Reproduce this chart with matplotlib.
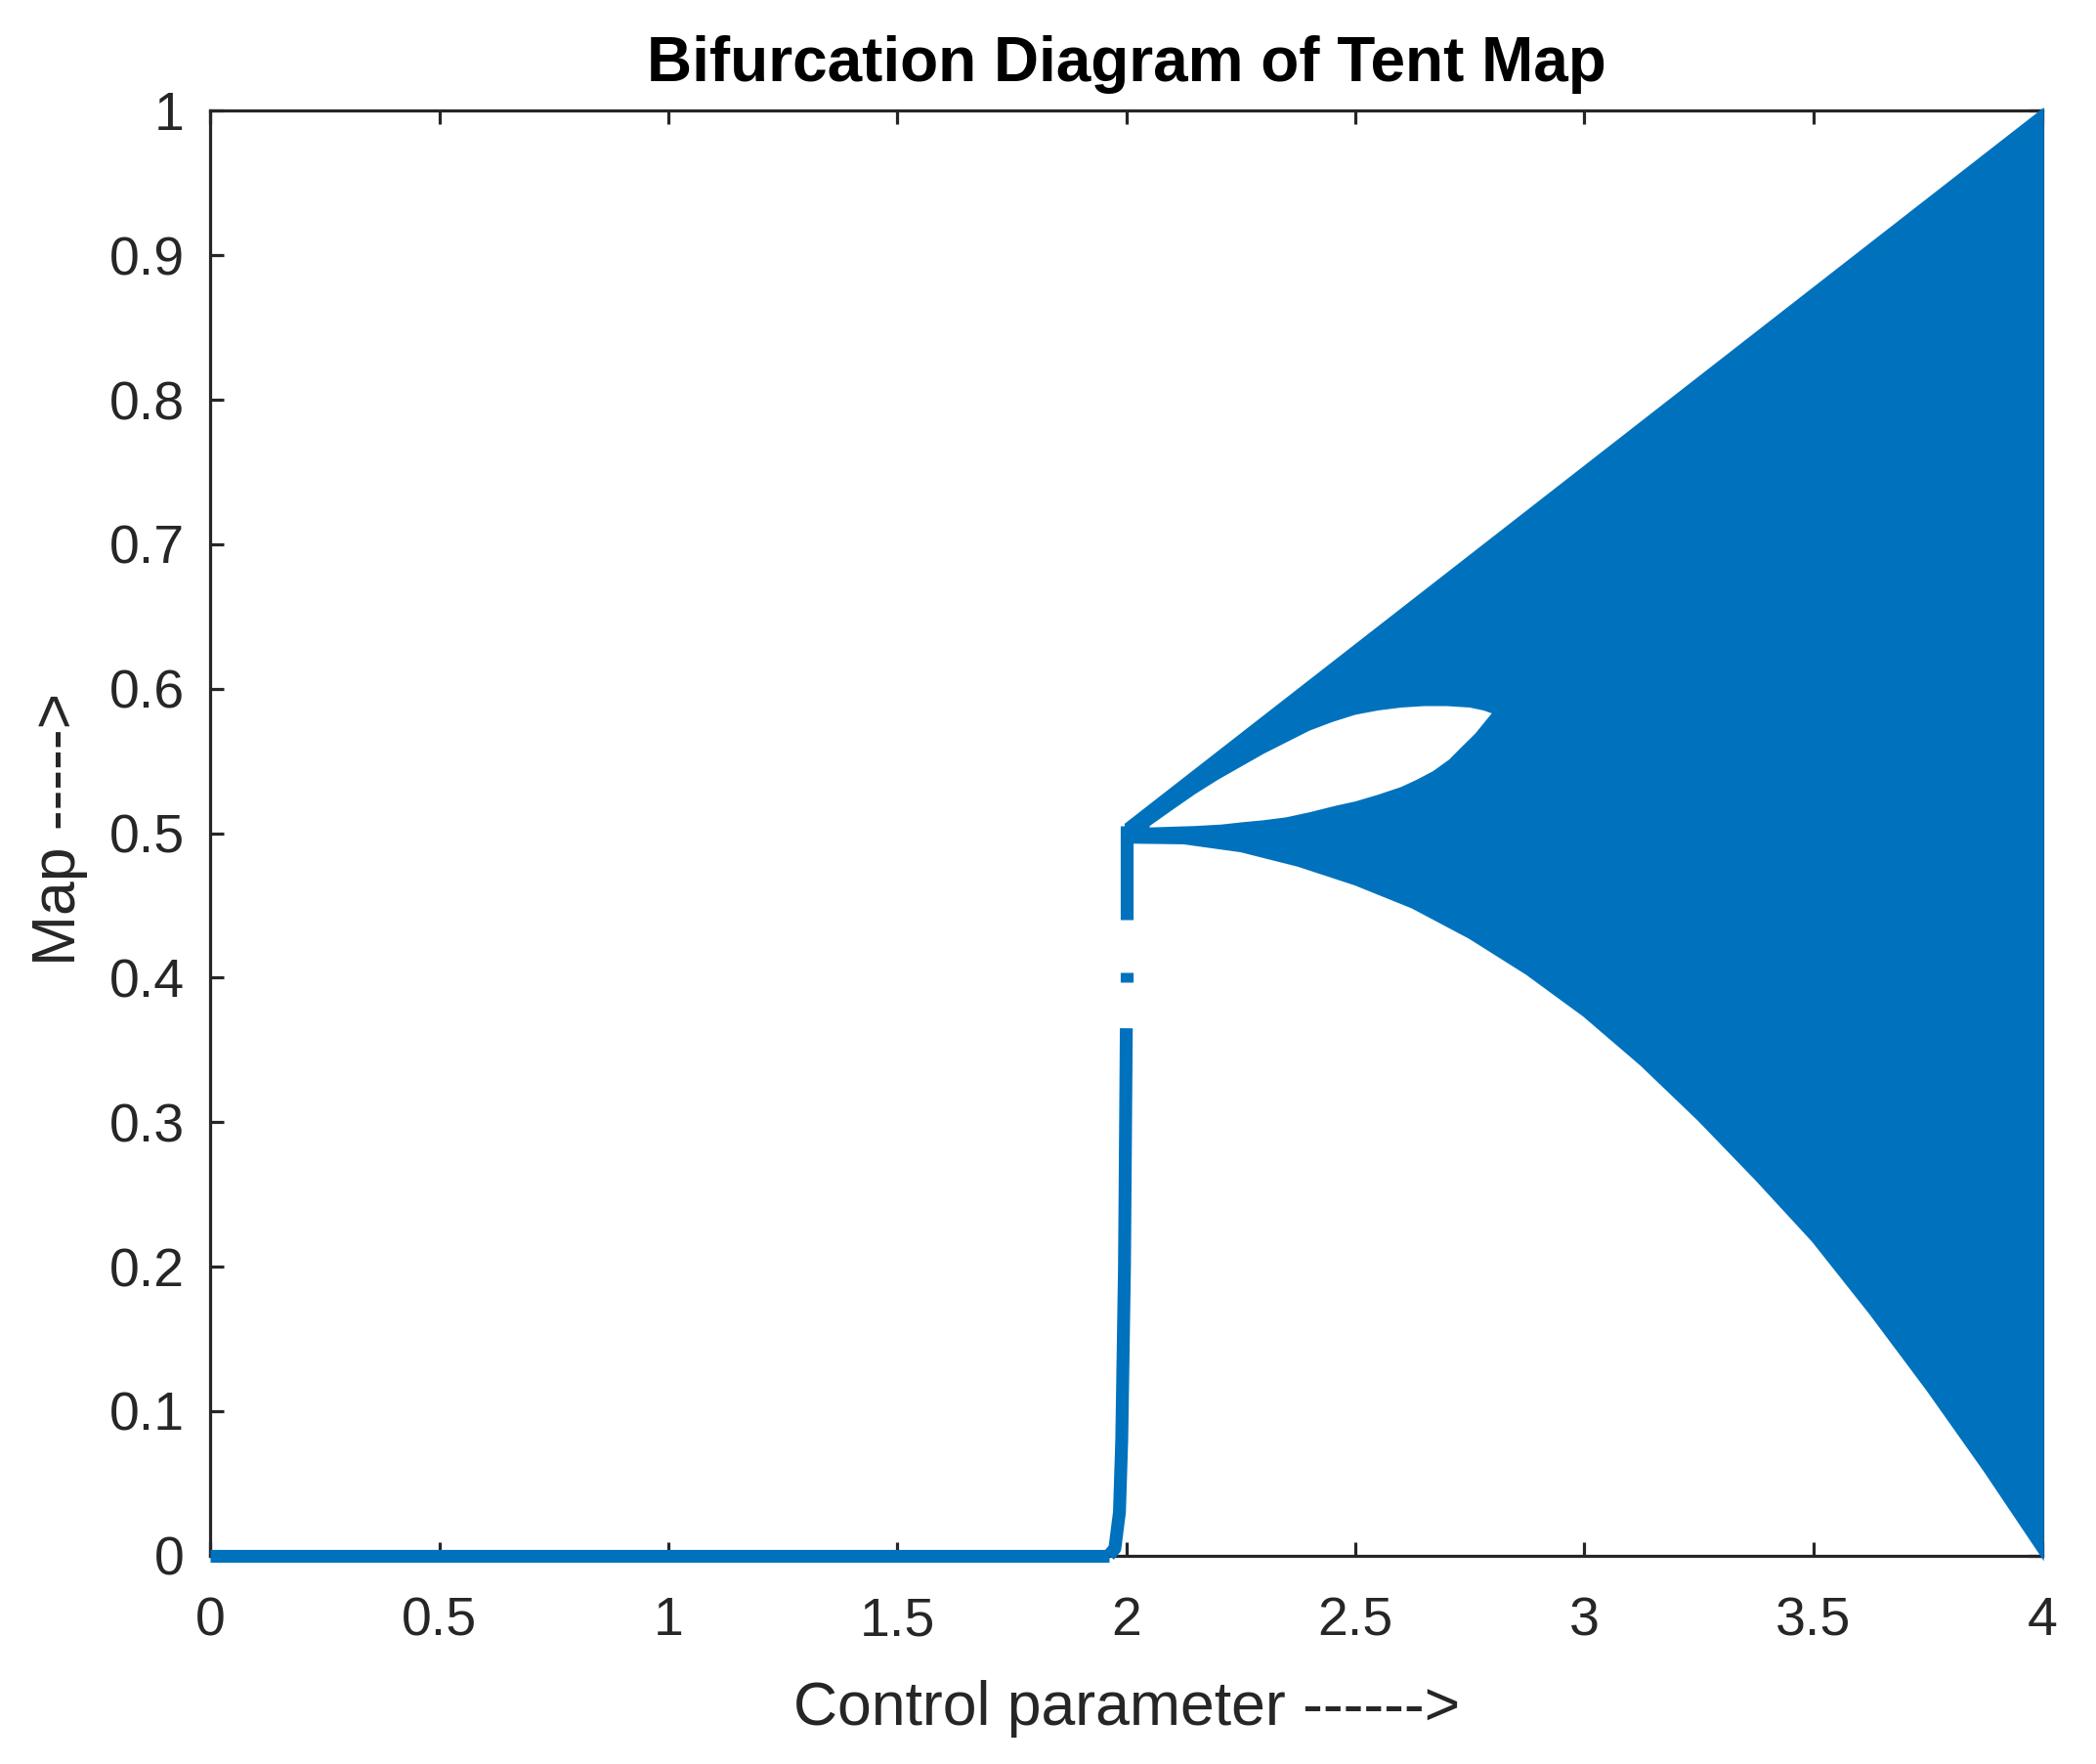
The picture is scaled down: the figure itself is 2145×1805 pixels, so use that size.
import numpy as np
import matplotlib
matplotlib.use('Agg')
import matplotlib.pyplot as plt

plt.rcParams['font.family'] = ['Liberation Sans', 'DejaVu Sans']

BLUE = '#0072BD'
DARK = '#262626'

# r < 2: orbit sits at 0
flat_r = [0.0, 1.962]
flat_x = [0.0, 0.0]

# transient climbing up just below r = 2
rise_r = [1.962, 1.975, 1.985, 1.99, 1.996, 2.0]
rise_x = [0.0, 0.005, 0.03, 0.08, 0.2, 0.365]
dot_r = [2.0, 2.0]
dot_x = [0.397, 0.404]
stub_r = [2.0, 2.0]
stub_x = [0.44, 0.505]

# chaotic band, r >= 2 (visible envelopes)
upper_r = [2.0, 4.0]
upper_x = [0.506, 1.0]
lower_r = [2.0, 2.125, 2.25, 2.375, 2.5, 2.625, 2.75, 2.875, 3.0,
           3.125, 3.25, 3.375, 3.5, 3.625, 3.75, 3.875, 4.0]
lower_x = [0.494, 0.4935, 0.488, 0.478, 0.465, 0.449, 0.428, 0.403, 0.374,
           0.340, 0.302, 0.261, 0.218, 0.168, 0.115, 0.059, 0.0]

# empty window inside the band
hole_top_r = [2.051, 2.1, 2.15, 2.2, 2.25, 2.3, 2.35, 2.4, 2.45, 2.5,
              2.55, 2.6, 2.65, 2.7, 2.75, 2.78, 2.798]
hole_top_x = [0.505, 0.516, 0.527, 0.537, 0.546, 0.555, 0.563, 0.571, 0.577, 0.582,
              0.585, 0.587, 0.588, 0.588, 0.587, 0.585, 0.583]
hole_bot_r = [2.051, 2.1, 2.15, 2.207, 2.25, 2.3, 2.349, 2.4, 2.457, 2.5,
              2.549, 2.6, 2.634, 2.67, 2.705, 2.73, 2.762, 2.78, 2.798]
hole_bot_x = [0.504, 0.5045, 0.505, 0.506, 0.5075, 0.509, 0.511, 0.5145, 0.519, 0.522,
              0.5266, 0.532, 0.537, 0.543, 0.551, 0.559, 0.569, 0.576, 0.583]

xticks = [0, 0.5, 1, 1.5, 2, 2.5, 3, 3.5, 4]
xtick_labels = ['0', '0.5', '1', '1.5', '2', '2.5', '3', '3.5', '4']
yticks = [0, 0.1, 0.2, 0.3, 0.4, 0.5, 0.6, 0.7, 0.8, 0.9, 1]
ytick_labels = ['0', '0.1', '0.2', '0.3', '0.4', '0.5', '0.6', '0.7', '0.8', '0.9', '1']

fig = plt.figure(figsize=(21.45, 18.05), dpi=100)
ax = fig.add_axes([0.10037, 0.11817, 0.87399, 0.81895])

lw = 9.5
ax.plot(flat_r, flat_x, color=BLUE, lw=lw, solid_capstyle='butt', clip_on=False, zorder=3)
ax.plot(rise_r, rise_x, color=BLUE, lw=lw, solid_capstyle='butt', solid_joinstyle='round',
        clip_on=False, zorder=3)
ax.plot(dot_r, dot_x, color=BLUE, lw=lw, solid_capstyle='butt', clip_on=False, zorder=3)
ax.plot(stub_r, stub_x, color=BLUE, lw=lw, solid_capstyle='butt', clip_on=False, zorder=3)

band_r = np.r_[upper_r, lower_r[::-1]]
band_x = np.r_[upper_x, lower_x[::-1]]
ax.fill(band_r, band_x, facecolor=BLUE, edgecolor=BLUE, lw=2.5, clip_on=False, zorder=3)

hole_r = np.r_[hole_top_r, hole_bot_r[::-1]]
hole_x = np.r_[hole_top_x, hole_bot_x[::-1]]
ax.fill(hole_r, hole_x, facecolor='white', edgecolor='none', zorder=4)

ax.set_xlim(0, 4)
ax.set_ylim(0, 1)
ax.set_xticks(xticks)
ax.set_xticklabels(xtick_labels)
ax.set_yticks(yticks)
ax.set_yticklabels(ytick_labels)

for s in ax.spines.values():
    s.set_color(DARK)
    s.set_linewidth(2.3)
ax.tick_params(axis='both', direction='in', length=10, width=2.3, color=DARK,
               labelcolor=DARK, labelsize=40, top=True, right=True)
ax.tick_params(axis='x', pad=30)
ax.tick_params(axis='y', pad=19)

ax.set_title('Bifurcation Diagram of Tent Map', fontsize=46, fontweight='bold',
             color='black', pad=22)
ax.set_xlabel('Control parameter ------>', fontsize=45, color=DARK)
ax.xaxis.label.set_va('baseline')
ax.xaxis.set_label_coords(0.5, -0.1172)
ax.set_ylabel('Map ----->', fontsize=45, color=DARK)
ax.yaxis.set_label_coords(-0.0668, 0.503)

fig.savefig('out.png', dpi=100)
